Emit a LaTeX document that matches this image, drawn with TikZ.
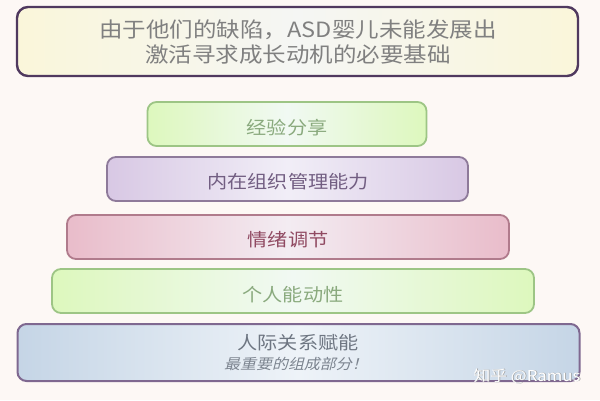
\documentclass[tikz,border=0pt]{standalone}
\usepackage{fontspec}
\setmainfont{Noto Sans CJK SC}
\newfontfamily\cjk[FakeStretch=1.12]{Noto Sans CJK SC}
\newfontfamily\cjkit[FakeSlant=0.25,FakeStretch=1.1]{Noto Sans CJK SC}
\definecolor{bg}{HTML}{FDF8F5}
\definecolor{topb}{HTML}{50395F}
\definecolor{tope}{HTML}{FAF6DA}
\definecolor{topc}{HTML}{F5F6F4}
\definecolor{topt}{HTML}{808080}
\definecolor{grb}{HTML}{9DC585}
\definecolor{gre}{HTML}{DDF8BD}
\definecolor{grc}{HTML}{F1F9F3}
\definecolor{grt}{HTML}{8AAA7E}
\definecolor{pub}{HTML}{8E7A9A}
\definecolor{pue}{HTML}{D8C8E4}
\definecolor{puc}{HTML}{F1EEF7}
\definecolor{put}{HTML}{725E82}
\definecolor{pib}{HTML}{B07B8C}
\definecolor{pie}{HTML}{E9BCCA}
\definecolor{pic}{HTML}{F3ECF2}
\definecolor{pit}{HTML}{904A62}
\definecolor{blb}{HTML}{7F6890}
\definecolor{ble}{HTML}{C5D5E6}
\definecolor{blc}{HTML}{EEF3F8}
\definecolor{blt}{HTML}{6E7682}
\begin{document}
\begin{tikzpicture}[x=1pt,y=-1pt,
  layer/.style={rounded corners=9pt, inner sep=0pt, line width=1.8pt},
  lbl/.style={inner sep=0pt, align=center, font=\cjk\fontsize{18}{22}\selectfont},
  topbox/.style={layer, rounded corners=11pt, draw=topb, line width=2.4pt, left color=tope, right color=tope, middle color=topc},
  grbox/.style={layer, draw=grb, left color=gre, right color=gre, middle color=grc},
  pubox/.style={layer, draw=pub, left color=pue, right color=pue, middle color=puc},
  pibox/.style={layer, draw=pib, left color=pie, right color=pie, middle color=pic},
  blbox/.style={layer, draw=blb, line width=2pt, left color=ble, right color=ble, middle color=blc},
]
\useasboundingbox (0,0) rectangle (600,400);
\fill[bg] (0,0) rectangle (600,400);
\node[topbox, minimum width=561pt, minimum height=69pt] (top) at (297.5,41.5) {};
\node[lbl, text=topt, font=\cjk\fontsize{21}{25}\selectfont] (topt1) at (298,42.5) {由于他们的缺陷，ASD婴儿未能发展出\\激活寻求成长动机的必要基础};
\node[grbox, minimum width=279pt, minimum height=44pt] (l1) at (287,124) {};
\node[lbl, text=grt] (t1) at (287,127.5) {经验分享};
\node[pubox, minimum width=361pt, minimum height=44pt] (l2) at (287.5,179) {};
\node[lbl, text=put] (t2) at (288,181.5) {内在组织管理能力};
\node[pibox, minimum width=442pt, minimum height=44pt] (l3) at (288,237) {};
\node[lbl, text=pit] (t3) at (288,240) {情绪调节};
\node[grbox, minimum width=482pt, minimum height=44pt] (l4) at (293,291) {};
\node[lbl, text=grt] (t4) at (293,294.5) {个人能动性};
\node[blbox, minimum width=562pt, minimum height=57pt] (l5) at (298.5,352.5) {};
\node[lbl, text=blt] (l5a) at (298,343) {人际关系赋能};
\node[lbl, text=blt!90, font=\cjkit\fontsize{14.5}{17}\selectfont] (l5b) at (296,364) {最重要的组成部分！};
\node[lbl, text=black!40, font=\cjk\fontsize{15}{18}\selectfont] (wms) at (527.8,376.8) {知乎 @Ramus};
\node[lbl, text=white, font=\cjk\fontsize{15}{18}\selectfont] (wm) at (527,376) {知乎 @Ramus};
\end{tikzpicture}
\end{document}
